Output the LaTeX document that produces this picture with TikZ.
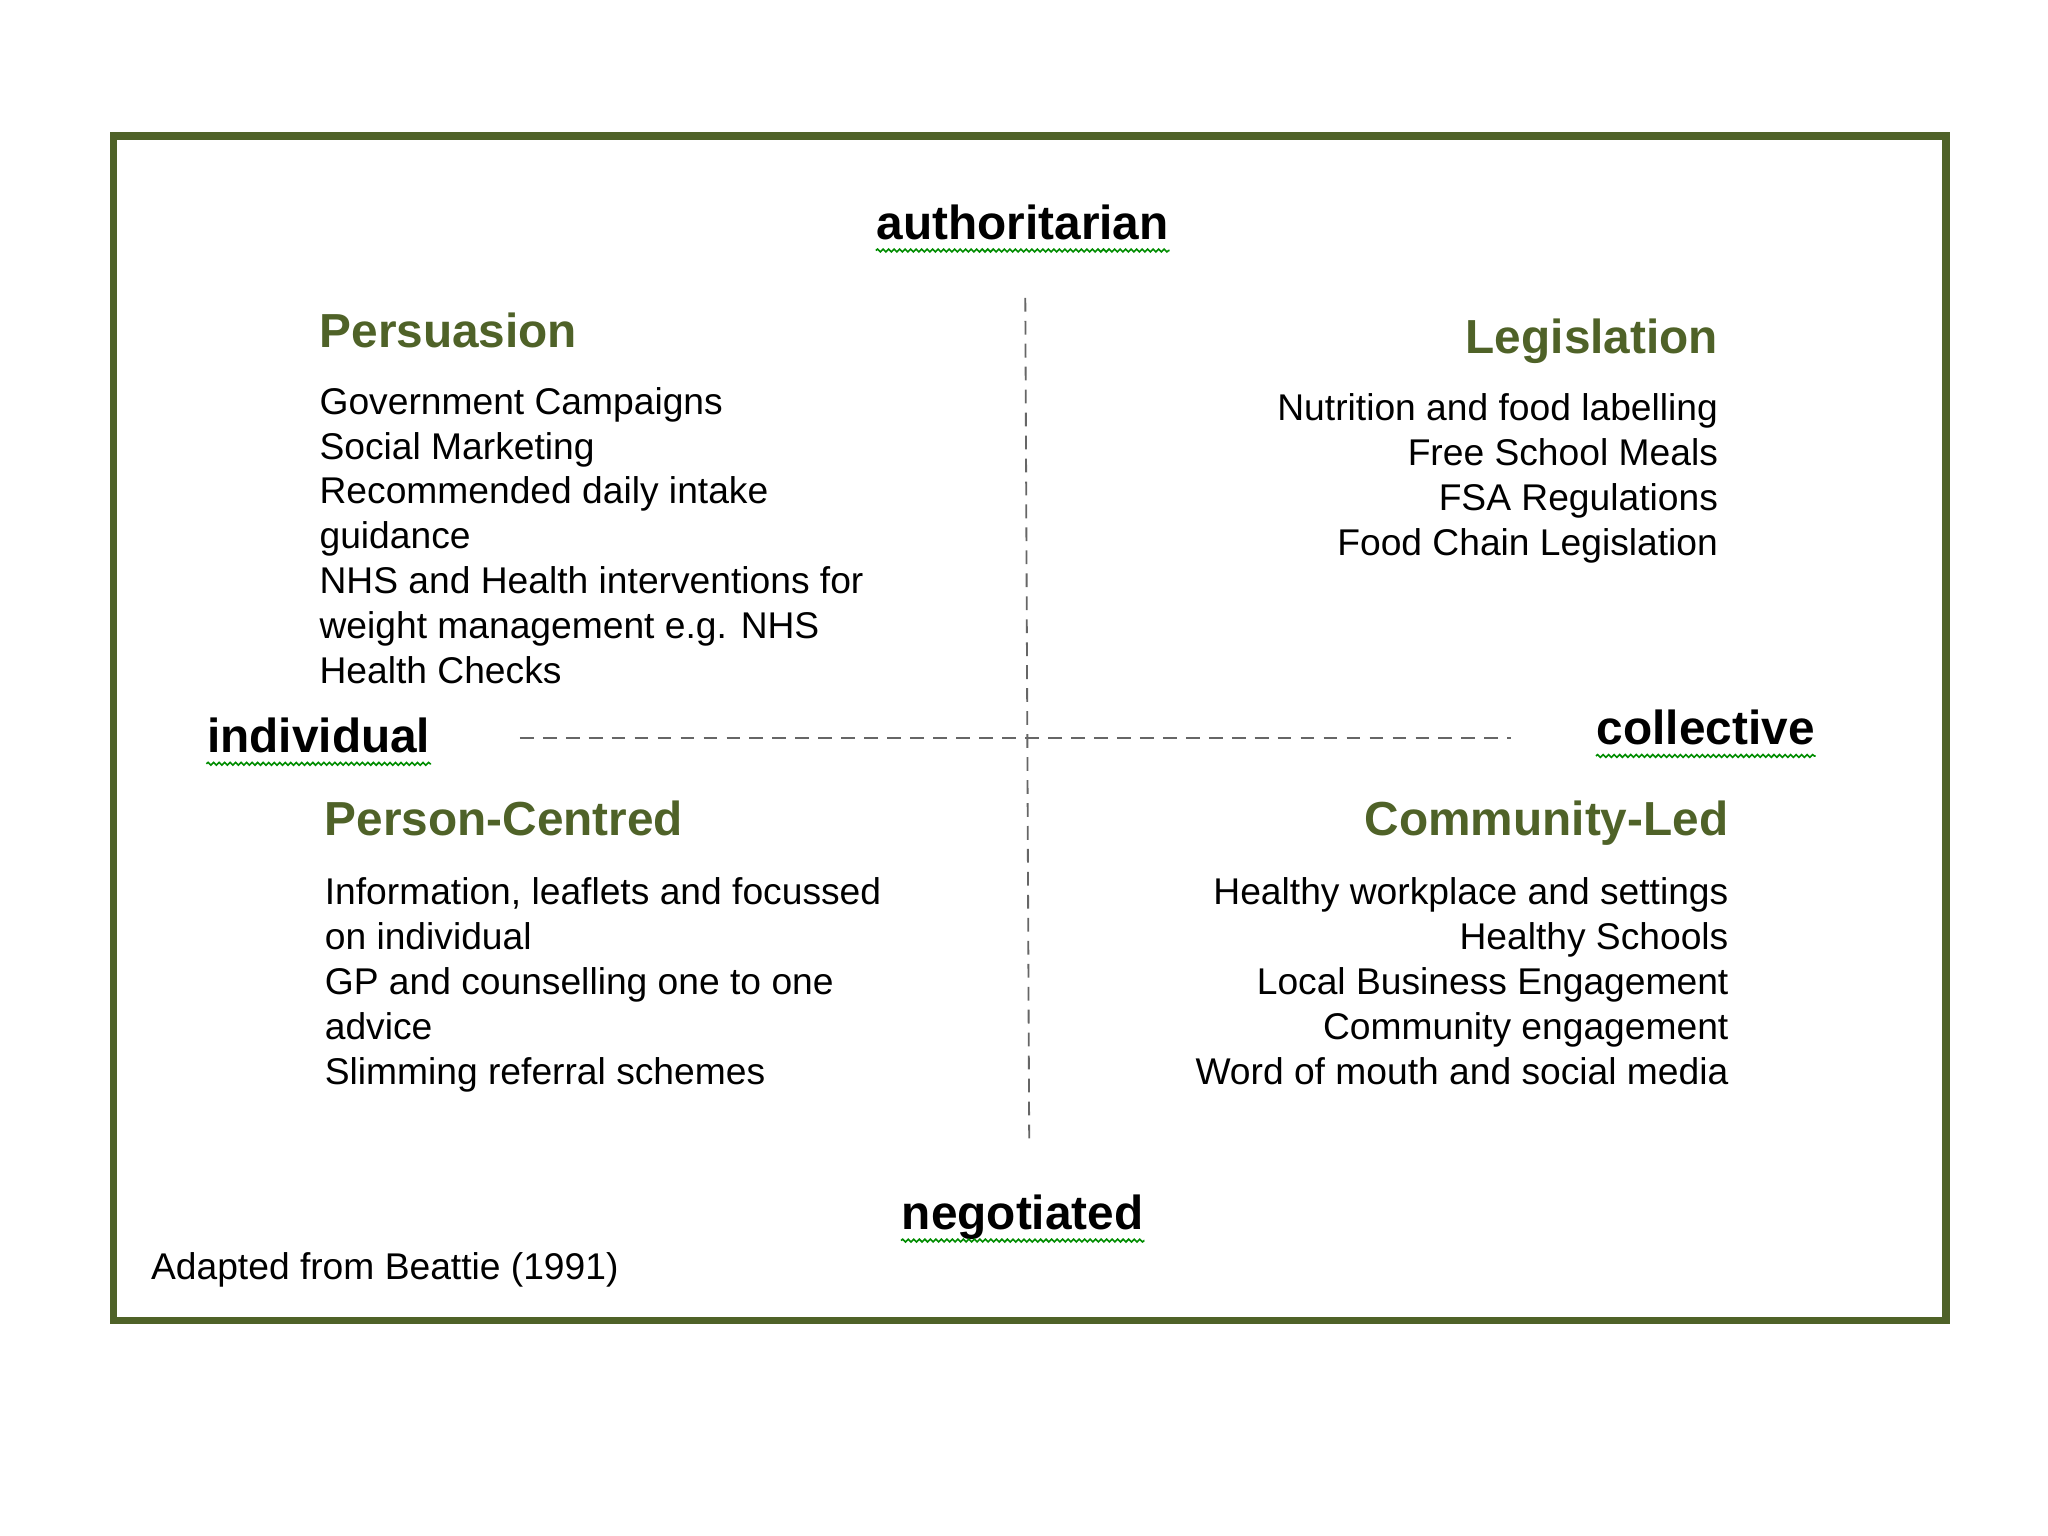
\documentclass[tikz,border=0pt]{standalone}
\usepackage{fontspec}
\setmainfont{Liberation Sans}
\usetikzlibrary{decorations.pathmorphing}
\definecolor{olv}{RGB}{79,98,40}
\definecolor{ttl}{RGB}{79,98,40}
\tikzset{
 body/.style={font=\fontsize{8.1}{9.75}\selectfont, inner sep=0pt},
 ttlb/.style={font=\fontsize{10.4}{12}\selectfont\bfseries, text=ttl, inner sep=0pt},
 axis/.style={font=\fontsize{10.4}{12}\selectfont\bfseries, inner sep=0pt},
 squig/.style={draw=green!55!black, line width=0.35pt, decorate, decoration={snake, amplitude=0.3pt, segment length=1.2pt}}
}
\begin{document}
\begin{tikzpicture}[x=0.01cm,y=-0.01cm]
\useasboundingbox (0,0) rectangle (1568,1176);
\draw[olv, line width=1.6pt] (87,104) rectangle (1490,1011);
\coordinate (vt) at (785,228); \coordinate (vb) at (788,875);
\coordinate (hl) at (398,565); \coordinate (hr) at (1157,565);
\draw[gray!80!black, line width=0.4pt, dash pattern=on 3pt off 2pt] (vt) -- (vb);
\draw[gray!80!black, line width=0.4pt, dash pattern=on 3pt off 2pt] (hl) -- (hr);
\node[axis, anchor=base] (auth) at (783,183) {authoritarian};
\node[axis, anchor=base] (neg) at (783,941) {negotiated};
\node[axis, anchor=base west] (ind) at (158,576) {individual};
\node[axis, anchor=base east] (col) at (1390,570) {collective};
\foreach \n in {auth,neg,ind,col} \draw[squig] ([yshift=-2.5pt]\n.base west) -- ([yshift=-2.5pt]\n.base east);
\node[ttlb, anchor=base west] (pers) at (244,266) {Persuasion};
\node[body, anchor=base west, align=left] (persb) at (244,523) {Government Campaigns\\Social Marketing\\Recommended daily intake\\guidance\\NHS and Health interventions for\\weight management e.g. NHS\\Health Checks};
\node[ttlb, anchor=base east] (leg) at (1316,271) {Legislation};
\node[body, anchor=base east, align=right] (legb) at (1316,425) {Nutrition and food labelling\\Free School Meals\\FSA Regulations\\Food Chain Legislation};
\node[ttlb, anchor=base west] (pc) at (248,640) {Person-Centred};
\node[body, anchor=base west, align=left] (pcb) at (248,830) {Information, leaflets and focussed\\on individual\\GP and counselling one to one\\advice\\Slimming referral schemes};
\node[ttlb, anchor=base east] (cl) at (1324,640) {Community-Led};
\node[body, anchor=base east, align=right] (clb) at (1324,830) {Healthy workplace and settings\\Healthy Schools\\Local Business Engagement\\Community engagement\\Word of mouth and social media};
\node[body, anchor=base west] (src) at (115,980) {Adapted from Beattie (1991)};
\end{tikzpicture}
\end{document}
